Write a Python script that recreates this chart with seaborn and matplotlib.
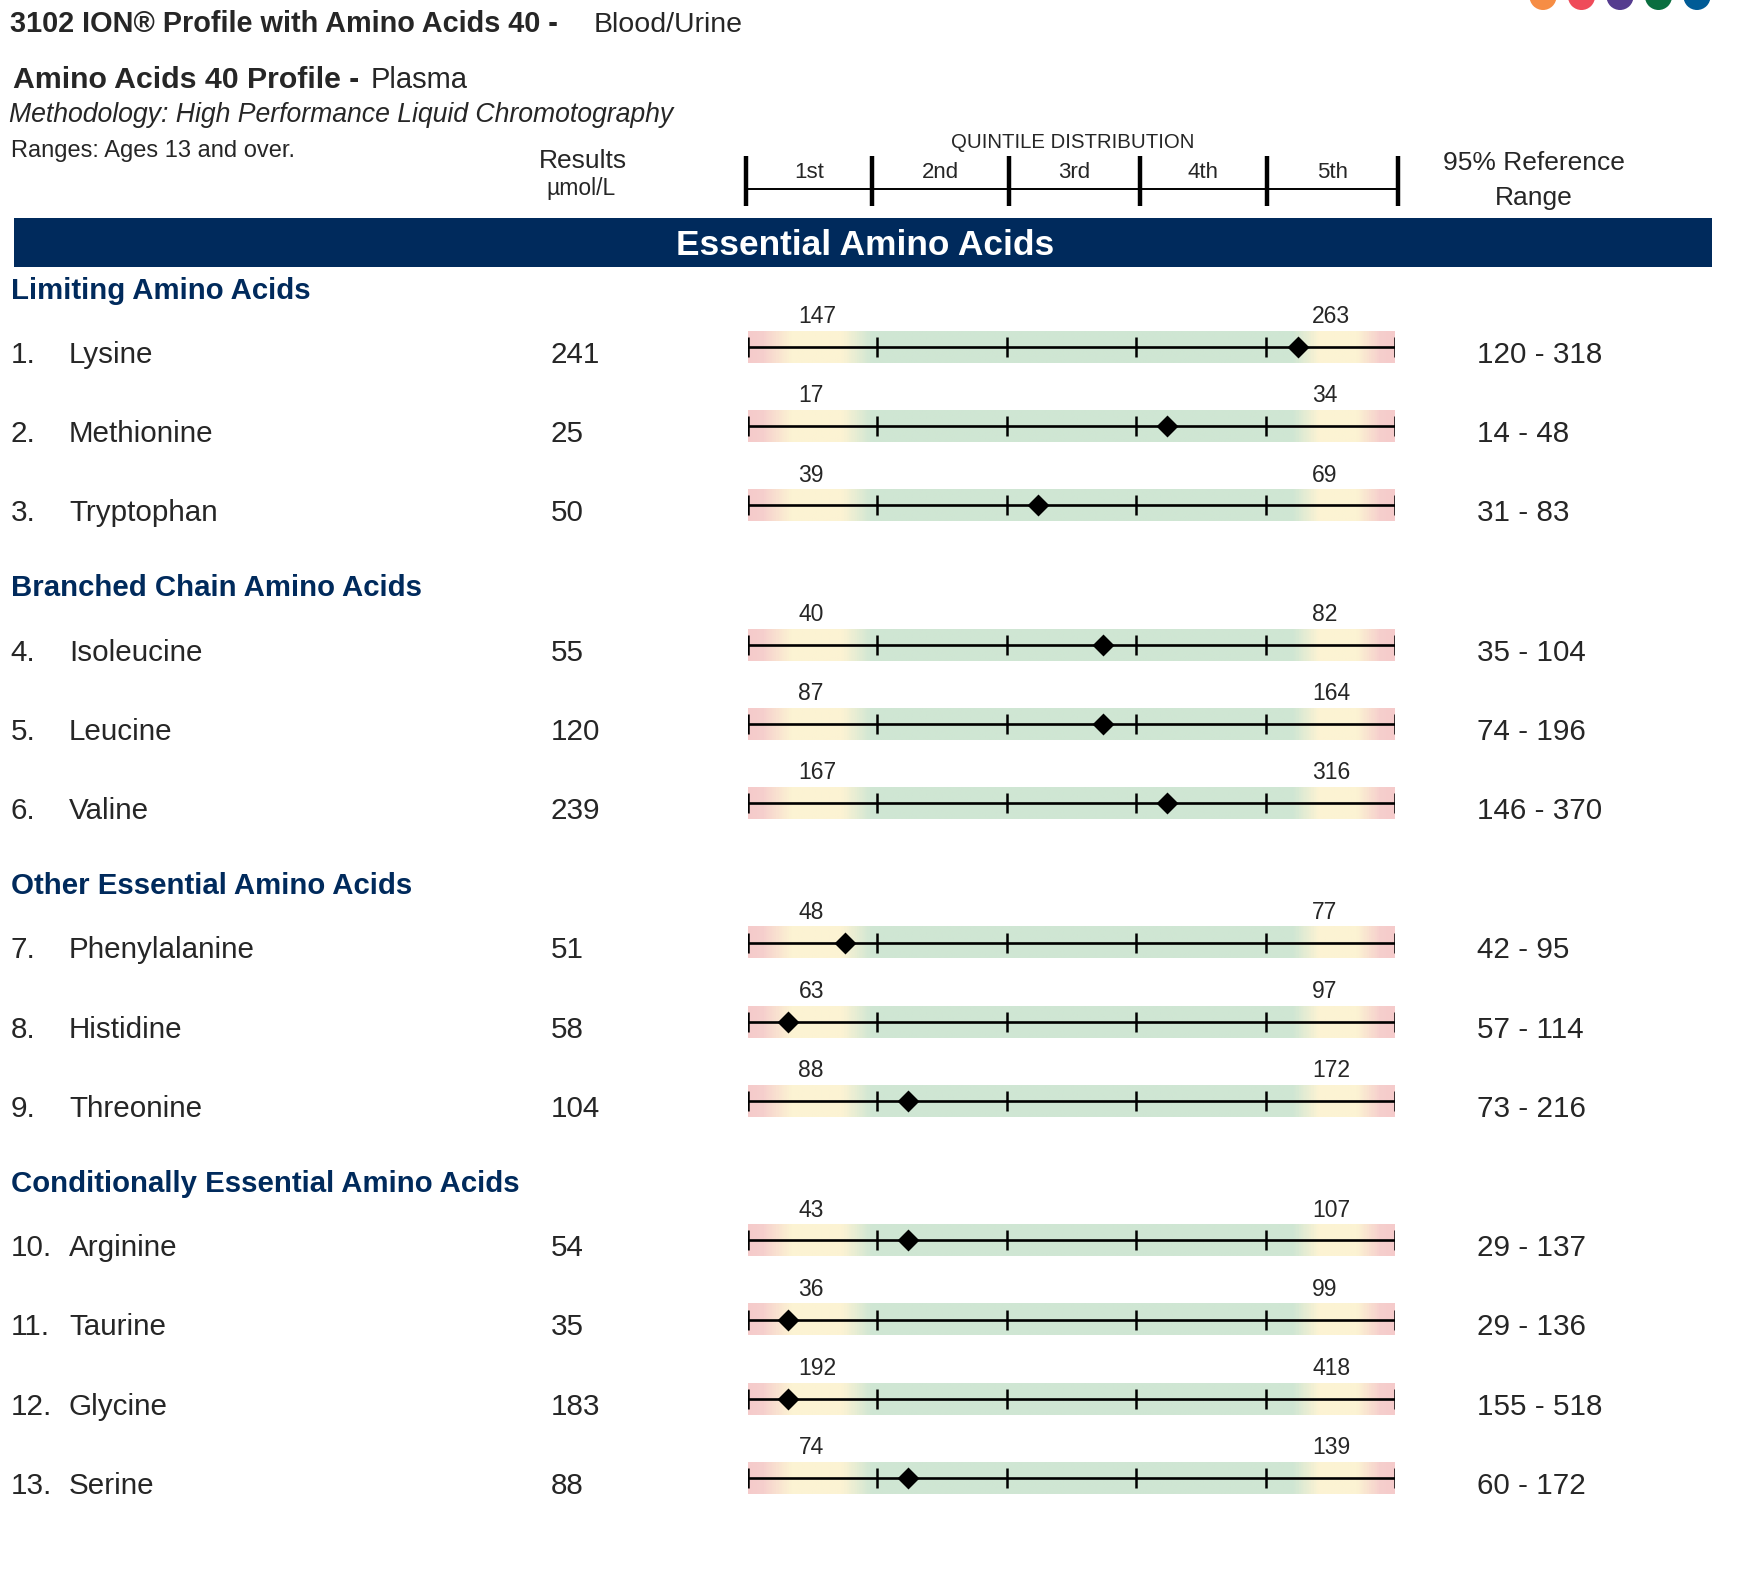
import numpy as np
import matplotlib
matplotlib.use('Agg')
import matplotlib.pyplot as plt
import matplotlib.transforms as mtransforms
from matplotlib.colors import LinearSegmentedColormap
from matplotlib.patches import Rectangle, Circle
import seaborn as sns

sns.set_theme(style='white')
plt.rcParams['font.family'] = ['Liberation Sans', 'DejaVu Sans']

# data
names = ['Lysine', 'Methionine', 'Tryptophan', 'Isoleucine', 'Leucine', 'Valine',
         'Phenylalanine', 'Histidine', 'Threonine', 'Arginine', 'Taurine', 'Glycine', 'Serine']
groups = [0, 0, 0, 1, 1, 1, 2, 2, 2, 3, 3, 3, 3]
group_titles = ['Limiting Amino Acids', 'Branched Chain Amino Acids',
                'Other Essential Amino Acids', 'Conditionally Essential Amino Acids']
results = [241, 25, 50, 55, 120, 239, 51, 58, 104, 54, 35, 183, 88]
q_low = [147, 17, 39, 40, 87, 167, 48, 63, 88, 43, 36, 192, 74]
q_high = [263, 34, 69, 82, 164, 316, 77, 97, 172, 107, 99, 418, 139]
ref_low = [120, 14, 31, 35, 74, 146, 42, 57, 73, 29, 29, 155, 60]
ref_high = [318, 48, 83, 104, 196, 370, 95, 114, 216, 137, 136, 518, 172]
# marker position on the quintile scale (0 = left end, 5 = right end)
quintile_pos = [4.25, 3.24, 2.24, 2.74, 2.74, 3.24, 0.75, 0.31, 1.24, 1.24, 0.31, 0.31, 1.24]
quintile_names = ['1st', '2nd', '3rd', '4th', '5th']
dot_colors = ['#f68d45', '#ef4b5a', '#553b8f', '#0a6e3f', '#005b96']

W, H = 1752, 1570
navy = '#002a5c'
fig = plt.figure(figsize=(W / 100, H / 100), dpi=100)

# page layer in pixel units
bg = fig.add_axes([0, 0, 1, 1])
bg.set_xlim(0, W)
bg.set_ylim(H, 0)
bg.axis('off')

bg.text(10, 31.5, '3102 ION® Profile with Amino Acids 40 -', fontsize=20.8,
        fontweight='bold', va='baseline')
bg.text(594, 31.5, 'Blood/Urine', fontsize=20.5, va='baseline')
bg.text(13, 88, 'Amino Acids 40 Profile -', fontsize=21.8, fontweight='bold', va='baseline')
bg.text(371, 88, 'Plasma', fontsize=21, va='baseline')
bg.text(9, 121.5, 'Methodology: High Performance Liquid Chromotography', fontsize=19.15,
        style='italic', va='baseline')
bg.text(11, 157, 'Ranges: Ages 13 and over.', fontsize=17, va='baseline')
bg.text(583, 168.5, 'Results', fontsize=19, ha='center', va='baseline')
bg.text(581, 195, 'µmol/L', fontsize=16.5, ha='center', va='baseline')
bg.text(1534, 170, '95% Reference', fontsize=19, ha='center', va='baseline')
bg.text(1534, 205, 'Range', fontsize=19, ha='center', va='baseline')

# quintile header ruler
hdr_x = [746, 872, 1009, 1140, 1267, 1398]
bg.text(1073, 148, 'QUINTILE DISTRIBUTION', fontsize=14.7, ha='center', va='baseline')
bg.vlines(hdr_x, 156, 206, color='black', lw=3.2)
bg.hlines(189, hdr_x[0], hdr_x[-1], color='black', lw=1.4)
for i, q in enumerate(quintile_names):
    bg.text((hdr_x[i] + hdr_x[i + 1]) / 2, 178, q, fontsize=16, ha='center', va='baseline')

# banner
bg.add_patch(Rectangle((14, 218), 1698, 49, color=navy, lw=0))
bg.text(865, 255, 'Essential Amino Acids', fontsize=25.4, fontweight='bold',
        color='white', ha='center', va='baseline')

# logo dots
for i, c in enumerate(dot_colors):
    bg.add_patch(Circle((1543 + 38.5 * i, -3.5), 13.5, color=c, lw=0, clip_on=False))

# rows: quintile scale axes
slot = 79.2
y0 = 347
ax = fig.add_axes([748 / W, 0, 647 / W, 1])
ax.axis('off')
row_y = np.arange(len(names)) + 0.76 * np.array(groups)

stops = [(0, '#f5cbcb'), (0.1, '#f6cfcd'), (0.32, '#fcf3d3'), (0.72, '#fcf3d3'),
         (0.95, '#cfe6d3'), (4.22, '#cfe6d3'), (4.42, '#fcf3d3'), (4.72, '#fcf3d3'),
         (4.9, '#f6cfcd'), (5, '#f5cbcb')]
cmap = LinearSegmentedColormap.from_list('band', [(p / 5, c) for p, c in stops])
grad = np.linspace(0, 1, 600)[None, :]

for y in row_y:
    ax.imshow(grad, cmap=cmap, extent=(0, 5, y + 0.2, y - 0.2), aspect='auto',
              interpolation='bilinear', zorder=1)
    ax.vlines(np.arange(6), y - 0.126, y + 0.126, color='black', lw=1.8, zorder=2)
ax.hlines(row_y, 0, 5, color='black', lw=1.9, zorder=2)

sns.scatterplot(x=quintile_pos, y=row_y, marker='D', s=125, color='black',
                linewidth=0, ax=ax, zorder=3, legend=False)
ax.set_xlim(0, 5)
ax.set_ylim((H - y0) / slot, -y0 / slot)
ax.axis('off')

trans = mtransforms.blended_transform_factory(bg.transData, ax.transData)
for i, y in enumerate(row_y):
    ax.text(10.5, y + 0.2, f'{i + 1}.', fontsize=21.3, transform=trans, va='baseline')
    ax.text(69, y + 0.2, names[i], fontsize=21.3, transform=trans, va='baseline')
    ax.text(551, y + 0.2, str(results[i]), fontsize=21.3, transform=trans, va='baseline')
    ax.text(1477, y + 0.2, f'{ref_low[i]} - {ref_high[i]}', fontsize=21.3,
            transform=trans, va='baseline')
    ax.text(0.39, y - 0.30, str(q_low[i]), fontsize=16.5, va='baseline')
    ax.text(4.36, y - 0.30, str(q_high[i]), fontsize=16.5, va='baseline')

for g, title in enumerate(group_titles):
    first = row_y[groups.index(g)]
    ax.text(11, first - 0.61, title, fontsize=21.2, fontweight='bold', color=navy,
            transform=trans, va='baseline')

fig.savefig('out.png', dpi=100)
